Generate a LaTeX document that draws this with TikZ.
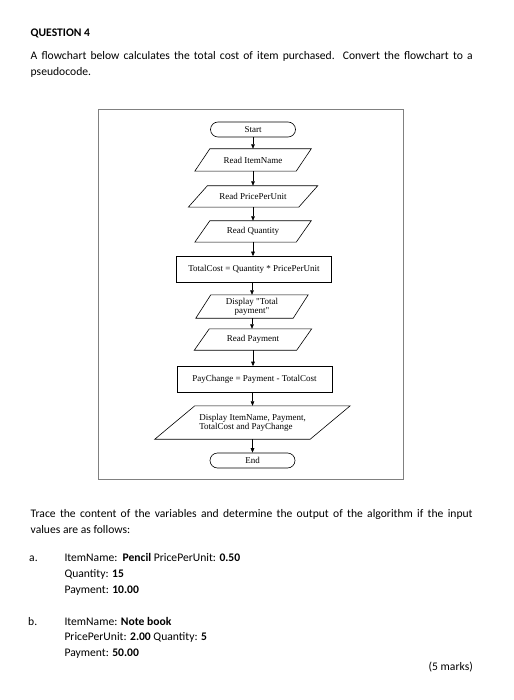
\documentclass[tikz,border=0pt]{standalone}
\usepackage{fontspec}
\setmainfont{Carlito}
\newfontfamily\tms{Liberation Serif}
\usetikzlibrary{arrows.meta}
\definecolor{framegray}{HTML}{808080}
\newcommand\ioshape[2]{% node name, slant in pt
  \draw[line width=0.6pt] ([xshift=#2/2]#1.north west) -- ([xshift=#2/2]#1.north east)
    -- ([xshift=-#2/2]#1.south east) -- ([xshift=-#2/2]#1.south west) -- cycle;}
\begin{document}
\begin{tikzpicture}[x=1pt,y=-1pt,
  txt/.style={anchor=base west,inner sep=0pt,font=\fontsize{11.6}{16}\selectfont},
  fc/.style={inner sep=0pt,font=\tms\fontsize{9}{9}\selectfont,align=center},
  term/.style={fc,draw,line width=0.6pt,rectangle,rounded corners=7.5pt,minimum width=85pt,minimum height=15pt},
  proc/.style={fc,draw,line width=0.6pt,rectangle,minimum width=155pt,minimum height=26pt},
  io/.style={fc,rectangle},
  arr/.style={-{Triangle[length=4.5pt,width=3.6pt]},line width=0.6pt}
]
\fill[white] (0,0) rectangle (513,700);
\useasboundingbox (0,0) rectangle (513,700);

% header text
\node[txt,font=\bfseries\fontsize{11.6}{16}\selectfont] (q) at (30.5,36.7) {QUESTION 4};
\node[txt] (l1) at (30.5,59.5) {\makebox[442pt][s]{A flowchart below calculates the total cost of item purchased. Convert the flowchart to a}};
\node[txt] (l2) at (30.5,75.5) {pseudocode.};

% frame
\draw[framegray,line width=0.9pt] (98,109) rectangle (403,479);

% flowchart
\node[term] (start) at (253,129.5) {Start};
\node[io,minimum width=101pt,minimum height=22pt] (r1) at (253,160) {Read ItemName};
\ioshape{r1}{15pt}
\node[io,minimum width=110pt,minimum height=21pt] (r2) at (253,196.5) {Read PricePerUnit};
\ioshape{r2}{19pt}
\node[io,minimum width=101pt,minimum height=21pt] (r3) at (253,231.5) {Read Quantity};
\ioshape{r3}{15pt}
\node[proc] (p1) at (254,269.5) {TotalCost = Quantity * PricePerUnit};
\node[io,minimum width=97pt,minimum height=23pt,font=\tms\fontsize{9}{7.5}\selectfont] (d1) at (252,306.5) {Display "Total\\payment"};
\ioshape{d1}{15pt}
\node[io,minimum width=102pt,minimum height=21pt] (r4) at (253,339.5) {Read Payment};
\ioshape{r4}{15pt}
\node[proc] (p2) at (254.5,379.5) {PayChange = Payment - TotalCost};
\node[io,minimum width=155pt,minimum height=33pt,align=left,font=\tms\fontsize{9}{9}\selectfont] (d2) at (252.5,422.5) {Display ItemName, Payment,\\TotalCost and PayChange};
\ioshape{d2}{40pt}
\node[term] (end) at (252.5,460.5) {End};

\draw[arr] (start) -- (start.south |- r1.north);
\draw[arr] (r1) -- (r1.south |- r2.north);
\draw[arr] (r2) -- (r2.south |- r3.north);
\draw[arr] (r3) -- (r3.south |- p1.north);
\draw[arr] (d1.north |- p1.south) -- (d1);
\draw[arr] (d1) -- (d1.south |- r4.north);
\draw[arr] (r4) -- (r4.south |- p2.north);
\draw[arr] (d2.north |- p2.south) -- (d2);
\draw[arr] (d2) -- (d2.south |- end.north);

% question text
\node[txt] (t1) at (30.5,517) {\makebox[442pt][s]{Trace the content of the variables and determine the output of the algorithm if the input}};
\node[txt] (t2) at (30.5,533) {values are as follows:};
\node[txt] (a) at (29,561.7) {a.};
\node[txt] (a1) at (64.3,561.7) {ItemName:\ \ \textbf{Pencil} PricePerUnit: \textbf{0.50}};
\node[txt] (a2) at (64.3,577.3) {Quantity: \textbf{15}};
\node[txt] (a3) at (64.3,593) {Payment: \textbf{10.00}};
\node[txt] (b) at (28,625) {b.};
\node[txt] (b1) at (64.3,625) {ItemName: \textbf{Note book}};
\node[txt] (b2) at (64.3,640.7) {PricePerUnit: \textbf{2.00} Quantity: \textbf{5}};
\node[txt] (b3) at (64.3,656.3) {Payment: \textbf{50.00}};
\node[txt,anchor=base east] (m) at (473,670.7) {(5 marks)};
\end{tikzpicture}
\end{document}
